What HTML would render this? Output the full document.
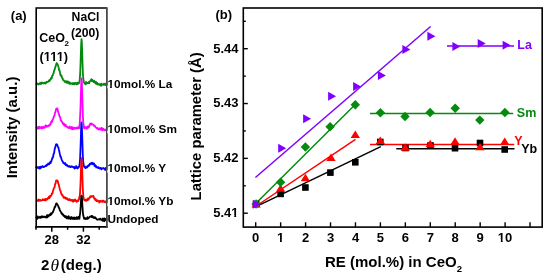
<!DOCTYPE html>
<html><head><meta charset="utf-8"><style>
html,body{margin:0;padding:0;width:550px;height:278px;overflow:hidden;background:#fff;font-family:"Liberation Sans",sans-serif;}
</style></head><body>
<svg width="550" height="278" viewBox="0 0 550 278" style="position:absolute;left:0;top:0;will-change:transform">
<rect width="550" height="278" fill="#fff"/>
<path d="M36.00 83.84 L36.35 84.24 L36.70 83.82 L37.05 83.75 L37.40 83.38 L37.75 83.75 L38.10 84.46 L38.45 84.05 L38.80 84.36 L39.15 83.90 L39.50 83.94 L39.85 83.79 L40.20 82.74 L40.55 84.09 L40.90 83.85 L41.25 83.81 L41.60 82.56 L41.95 82.48 L42.30 82.89 L42.65 83.07 L43.00 83.43 L43.35 83.17 L43.70 83.42 L44.05 82.70 L44.40 83.14 L44.75 83.10 L45.10 82.43 L45.45 83.63 L45.80 82.88 L46.15 83.11 L46.50 81.98 L46.85 81.77 L47.20 81.83 L47.55 81.79 L47.90 82.01 L48.25 81.59 L48.60 80.98 L48.95 80.44 L49.30 80.40 L49.65 81.05 L50.00 79.58 L50.35 79.77 L50.70 79.44 L51.05 77.90 L51.40 78.20 L51.75 78.28 L52.10 75.77 L52.45 75.93 L52.80 75.19 L53.15 73.85 L53.50 73.52 L53.85 72.06 L54.20 70.06 L54.55 70.03 L54.90 68.62 L55.25 67.49 L55.60 66.58 L55.95 65.00 L56.30 64.16 L56.65 63.02 L57.00 64.10 L57.35 63.84 L57.70 64.68 L58.05 65.25 L58.40 66.62 L58.75 68.15 L59.10 70.47 L59.45 69.93 L59.80 71.46 L60.15 73.53 L60.50 75.23 L60.85 75.69 L61.20 75.17 L61.55 75.59 L61.90 77.84 L62.25 77.84 L62.60 78.17 L62.95 79.80 L63.30 80.29 L63.65 80.15 L64.00 80.54 L64.35 80.96 L64.70 81.87 L65.05 81.58 L65.40 81.75 L65.75 81.97 L66.10 80.99 L66.45 82.73 L66.80 82.70 L67.15 82.61 L67.50 81.36 L67.85 82.22 L68.20 83.13 L68.55 81.77 L68.90 82.76 L69.25 83.50 L69.60 82.30 L69.95 83.98 L70.30 83.46 L70.65 83.13 L71.00 83.45 L71.35 83.68 L71.70 83.43 L72.05 84.04 L72.40 83.08 L72.75 83.25 L73.10 84.08 L73.45 83.55 L73.80 83.07 L74.15 84.10 L74.50 84.40 L74.85 83.36 L75.20 82.85 L75.55 83.53 L75.90 83.52 L76.25 83.42 L76.60 84.33 L76.95 82.96 L77.30 84.17 L77.65 82.71 L78.00 82.88 L78.35 83.52 L78.70 83.56 L79.05 82.95 L79.40 81.63 L79.75 79.16 L80.10 74.41 L80.45 66.62 L80.80 55.35 L81.15 44.72 L81.50 39.12 L81.85 42.15 L82.20 52.59 L82.55 63.75 L82.90 73.52 L83.25 78.24 L83.60 80.75 L83.95 82.10 L84.30 82.86 L84.65 83.64 L85.00 83.09 L85.35 83.56 L85.70 84.39 L86.05 81.97 L86.40 82.72 L86.75 83.40 L87.10 83.38 L87.45 83.15 L87.80 82.61 L88.15 83.00 L88.50 82.56 L88.85 81.87 L89.20 83.22 L89.55 81.81 L89.90 81.04 L90.25 81.04 L90.60 80.74 L90.95 80.65 L91.30 79.05 L91.65 80.22 L92.00 81.04 L92.35 79.90 L92.70 80.63 L93.05 81.38 L93.40 81.55 L93.75 82.17 L94.10 80.70 L94.45 81.74 L94.80 82.05 L95.15 82.87 L95.50 83.40 L95.85 81.57 L96.20 83.87 L96.55 82.67 L96.90 84.01 L97.25 82.96 L97.60 84.00 L97.95 84.66 L98.30 84.00 L98.65 84.25 L99.00 84.64 L99.35 84.32 L99.70 84.23 L100.05 85.15 L100.40 84.91 L100.75 84.19 L101.10 85.88 L101.45 83.75 L101.80 84.90 L102.15 84.26 L102.50 84.49 L102.85 84.82 L103.20 84.56 L103.55 84.80 L103.90 83.62 L104.25 83.63 L104.60 84.81 L104.95 83.95 L105.30 83.92 L105.65 83.68 L106.00 85.19 L106.35 84.91 L106.70 85.32" fill="none" stroke="#058a10" stroke-width="1.8" stroke-linejoin="round"/>
<path d="M36.00 127.29 L36.35 127.80 L36.70 127.16 L37.05 128.19 L37.40 128.63 L37.75 127.25 L38.10 128.58 L38.45 128.24 L38.80 127.58 L39.15 126.57 L39.50 128.40 L39.85 127.55 L40.20 127.24 L40.55 127.76 L40.90 127.74 L41.25 128.30 L41.60 126.88 L41.95 128.02 L42.30 128.17 L42.65 128.10 L43.00 127.15 L43.35 126.79 L43.70 127.70 L44.05 127.13 L44.40 127.07 L44.75 127.71 L45.10 126.69 L45.45 125.48 L45.80 126.43 L46.15 125.52 L46.50 126.87 L46.85 126.46 L47.20 125.81 L47.55 125.98 L47.90 126.27 L48.25 125.66 L48.60 126.14 L48.95 125.14 L49.30 125.48 L49.65 125.44 L50.00 125.18 L50.35 123.56 L50.70 124.01 L51.05 122.03 L51.40 121.96 L51.75 120.90 L52.10 121.92 L52.45 119.93 L52.80 119.79 L53.15 118.79 L53.50 117.88 L53.85 116.49 L54.20 115.78 L54.55 115.41 L54.90 113.20 L55.25 112.25 L55.60 111.39 L55.95 109.80 L56.30 108.55 L56.65 108.60 L57.00 109.53 L57.35 108.43 L57.70 109.73 L58.05 111.59 L58.40 112.62 L58.75 113.42 L59.10 115.12 L59.45 116.00 L59.80 116.43 L60.15 117.30 L60.50 118.80 L60.85 120.56 L61.20 120.55 L61.55 121.09 L61.90 121.81 L62.25 121.97 L62.60 123.27 L62.95 123.14 L63.30 124.40 L63.65 123.27 L64.00 125.08 L64.35 124.85 L64.70 124.40 L65.05 126.11 L65.40 125.78 L65.75 124.91 L66.10 125.84 L66.45 126.64 L66.80 126.38 L67.15 127.20 L67.50 127.31 L67.85 127.39 L68.20 127.31 L68.55 127.96 L68.90 127.68 L69.25 127.65 L69.60 126.34 L69.95 128.05 L70.30 128.34 L70.65 127.52 L71.00 127.48 L71.35 128.86 L71.70 126.87 L72.05 128.14 L72.40 129.26 L72.75 127.45 L73.10 128.38 L73.45 129.06 L73.80 127.98 L74.15 128.38 L74.50 128.58 L74.85 127.60 L75.20 128.06 L75.55 128.27 L75.90 128.56 L76.25 128.07 L76.60 127.95 L76.95 127.47 L77.30 127.77 L77.65 128.39 L78.00 127.85 L78.35 127.17 L78.70 126.92 L79.05 128.34 L79.40 126.34 L79.75 123.43 L80.10 116.35 L80.45 109.15 L80.80 96.96 L81.15 85.48 L81.50 78.35 L81.85 81.82 L82.20 93.33 L82.55 104.56 L82.90 116.22 L83.25 122.13 L83.60 124.84 L83.95 127.43 L84.30 128.33 L84.65 126.85 L85.00 127.41 L85.35 128.01 L85.70 127.97 L86.05 127.63 L86.40 127.25 L86.75 128.84 L87.10 128.10 L87.45 126.67 L87.80 126.35 L88.15 127.75 L88.50 127.04 L88.85 127.16 L89.20 126.24 L89.55 124.94 L89.90 125.20 L90.25 123.52 L90.60 124.00 L90.95 124.13 L91.30 124.27 L91.65 123.50 L92.00 123.83 L92.35 124.23 L92.70 124.36 L93.05 124.76 L93.40 124.84 L93.75 124.91 L94.10 125.92 L94.45 125.92 L94.80 125.85 L95.15 126.36 L95.50 127.08 L95.85 127.36 L96.20 127.82 L96.55 128.00 L96.90 128.34 L97.25 128.37 L97.60 127.92 L97.95 128.98 L98.30 129.44 L98.65 129.19 L99.00 128.93 L99.35 129.34 L99.70 128.62 L100.05 128.15 L100.40 129.26 L100.75 128.75 L101.10 129.70 L101.45 128.72 L101.80 127.89 L102.15 128.79 L102.50 130.25 L102.85 129.19 L103.20 128.66 L103.55 129.02 L103.90 129.74 L104.25 129.74 L104.60 129.58 L104.95 130.31 L105.30 129.90 L105.65 129.51 L106.00 129.87 L106.35 130.46 L106.70 130.10" fill="none" stroke="#ff00ff" stroke-width="1.8" stroke-linejoin="round"/>
<path d="M36.00 167.94 L36.35 166.77 L36.70 167.26 L37.05 167.72 L37.40 167.13 L37.75 167.86 L38.10 167.57 L38.45 167.71 L38.80 167.07 L39.15 168.55 L39.50 167.80 L39.85 166.96 L40.20 167.09 L40.55 168.43 L40.90 166.77 L41.25 167.39 L41.60 167.40 L41.95 166.81 L42.30 166.10 L42.65 166.78 L43.00 166.81 L43.35 167.16 L43.70 166.89 L44.05 166.39 L44.40 166.76 L44.75 166.49 L45.10 166.20 L45.45 166.00 L45.80 165.71 L46.15 166.08 L46.50 164.97 L46.85 165.04 L47.20 165.21 L47.55 164.21 L47.90 164.56 L48.25 163.45 L48.60 163.92 L48.95 164.31 L49.30 163.99 L49.65 163.29 L50.00 162.79 L50.35 161.69 L50.70 162.97 L51.05 161.69 L51.40 161.37 L51.75 159.58 L52.10 159.17 L52.45 157.38 L52.80 157.82 L53.15 156.80 L53.50 154.02 L53.85 153.70 L54.20 152.65 L54.55 149.83 L54.90 148.27 L55.25 147.20 L55.60 146.07 L55.95 144.50 L56.30 144.47 L56.65 144.18 L57.00 144.42 L57.35 144.94 L57.70 146.26 L58.05 147.26 L58.40 147.30 L58.75 149.25 L59.10 150.48 L59.45 151.97 L59.80 153.94 L60.15 155.31 L60.50 156.78 L60.85 156.73 L61.20 157.91 L61.55 159.46 L61.90 160.15 L62.25 160.79 L62.60 161.55 L62.95 161.73 L63.30 163.03 L63.65 163.29 L64.00 163.45 L64.35 163.48 L64.70 164.08 L65.05 162.98 L65.40 164.20 L65.75 165.00 L66.10 164.37 L66.45 165.51 L66.80 165.66 L67.15 164.99 L67.50 165.76 L67.85 165.86 L68.20 166.42 L68.55 166.62 L68.90 166.37 L69.25 166.02 L69.60 166.51 L69.95 166.63 L70.30 167.15 L70.65 166.98 L71.00 166.49 L71.35 166.21 L71.70 166.80 L72.05 166.66 L72.40 166.50 L72.75 167.09 L73.10 166.92 L73.45 167.29 L73.80 167.55 L74.15 167.06 L74.50 168.59 L74.85 167.15 L75.20 167.95 L75.55 167.41 L75.90 167.96 L76.25 166.03 L76.60 166.91 L76.95 167.43 L77.30 167.58 L77.65 168.47 L78.00 167.27 L78.35 167.66 L78.70 167.14 L79.05 166.79 L79.40 165.50 L79.75 162.77 L80.10 158.35 L80.45 149.40 L80.80 139.73 L81.15 127.57 L81.50 122.46 L81.85 126.86 L82.20 135.66 L82.55 147.14 L82.90 156.80 L83.25 161.85 L83.60 164.34 L83.95 166.25 L84.30 166.99 L84.65 167.32 L85.00 166.63 L85.35 168.08 L85.70 168.04 L86.05 167.10 L86.40 167.16 L86.75 166.65 L87.10 167.50 L87.45 166.13 L87.80 166.63 L88.15 165.70 L88.50 165.25 L88.85 165.67 L89.20 165.62 L89.55 164.49 L89.90 163.74 L90.25 164.20 L90.60 163.41 L90.95 163.35 L91.30 163.83 L91.65 163.52 L92.00 162.60 L92.35 164.24 L92.70 163.16 L93.05 163.85 L93.40 163.39 L93.75 164.09 L94.10 163.56 L94.45 165.93 L94.80 166.12 L95.15 165.11 L95.50 165.34 L95.85 165.63 L96.20 167.48 L96.55 166.86 L96.90 167.32 L97.25 167.39 L97.60 167.67 L97.95 167.28 L98.30 168.01 L98.65 167.30 L99.00 168.12 L99.35 168.40 L99.70 168.53 L100.05 168.19 L100.40 167.86 L100.75 168.47 L101.10 168.15 L101.45 169.30 L101.80 168.88 L102.15 168.41 L102.50 168.24 L102.85 168.13 L103.20 168.01 L103.55 168.35 L103.90 168.72 L104.25 168.85 L104.60 168.90 L104.95 169.75 L105.30 168.22 L105.65 168.63 L106.00 170.17 L106.35 167.61 L106.70 168.36" fill="none" stroke="#0000ff" stroke-width="1.8" stroke-linejoin="round"/>
<path d="M36.00 200.77 L36.35 200.75 L36.70 200.87 L37.05 200.49 L37.40 200.80 L37.75 200.61 L38.10 200.98 L38.45 199.49 L38.80 200.01 L39.15 200.47 L39.50 199.87 L39.85 199.83 L40.20 200.72 L40.55 199.98 L40.90 200.65 L41.25 200.66 L41.60 200.38 L41.95 200.44 L42.30 200.05 L42.65 199.28 L43.00 199.98 L43.35 200.18 L43.70 199.57 L44.05 199.74 L44.40 200.12 L44.75 199.14 L45.10 199.88 L45.45 200.45 L45.80 199.01 L46.15 199.28 L46.50 198.99 L46.85 199.77 L47.20 198.95 L47.55 199.09 L47.90 198.03 L48.25 198.20 L48.60 197.97 L48.95 196.74 L49.30 198.23 L49.65 197.62 L50.00 195.82 L50.35 196.80 L50.70 195.88 L51.05 195.72 L51.40 195.12 L51.75 193.49 L52.10 193.51 L52.45 193.68 L52.80 191.68 L53.15 190.48 L53.50 189.24 L53.85 188.16 L54.20 187.78 L54.55 187.23 L54.90 185.22 L55.25 183.83 L55.60 183.74 L55.95 181.23 L56.30 180.44 L56.65 180.74 L57.00 180.78 L57.35 180.34 L57.70 181.01 L58.05 182.84 L58.40 184.02 L58.75 184.47 L59.10 186.40 L59.45 187.51 L59.80 189.29 L60.15 190.11 L60.50 191.17 L60.85 191.97 L61.20 193.59 L61.55 194.54 L61.90 194.25 L62.25 195.52 L62.60 195.18 L62.95 196.12 L63.30 196.92 L63.65 197.73 L64.00 197.03 L64.35 197.51 L64.70 197.94 L65.05 197.26 L65.40 198.32 L65.75 198.15 L66.10 198.91 L66.45 198.26 L66.80 197.95 L67.15 199.20 L67.50 199.45 L67.85 199.12 L68.20 200.02 L68.55 199.49 L68.90 199.40 L69.25 200.08 L69.60 199.03 L69.95 199.59 L70.30 200.02 L70.65 200.56 L71.00 200.06 L71.35 200.37 L71.70 199.89 L72.05 200.46 L72.40 201.25 L72.75 199.99 L73.10 201.71 L73.45 200.08 L73.80 200.47 L74.15 200.58 L74.50 201.06 L74.85 199.83 L75.20 199.36 L75.55 200.85 L75.90 200.95 L76.25 200.85 L76.60 201.93 L76.95 200.57 L77.30 200.55 L77.65 200.86 L78.00 200.46 L78.35 201.04 L78.70 199.23 L79.05 199.27 L79.40 196.61 L79.75 196.74 L80.10 191.61 L80.45 184.78 L80.80 175.25 L81.15 163.83 L81.50 158.27 L81.85 161.28 L82.20 170.52 L82.55 181.23 L82.90 190.37 L83.25 195.34 L83.60 198.10 L83.95 199.20 L84.30 200.33 L84.65 200.33 L85.00 200.10 L85.35 200.60 L85.70 200.15 L86.05 199.57 L86.40 200.92 L86.75 200.26 L87.10 199.32 L87.45 200.24 L87.80 199.59 L88.15 198.26 L88.50 199.69 L88.85 198.65 L89.20 198.59 L89.55 197.84 L89.90 197.28 L90.25 196.17 L90.60 197.26 L90.95 196.49 L91.30 196.14 L91.65 196.40 L92.00 196.24 L92.35 196.65 L92.70 196.24 L93.05 196.67 L93.40 195.82 L93.75 197.11 L94.10 198.10 L94.45 198.86 L94.80 198.33 L95.15 198.85 L95.50 200.15 L95.85 199.43 L96.20 200.31 L96.55 201.09 L96.90 200.42 L97.25 201.26 L97.60 200.36 L97.95 201.00 L98.30 200.95 L98.65 201.14 L99.00 201.77 L99.35 202.52 L99.70 200.89 L100.05 200.98 L100.40 201.60 L100.75 200.77 L101.10 201.65 L101.45 201.71 L101.80 201.26 L102.15 201.73 L102.50 200.60 L102.85 201.88 L103.20 200.63 L103.55 201.11 L103.90 201.20 L104.25 201.29 L104.60 202.00 L104.95 201.58 L105.30 201.33 L105.65 201.85 L106.00 202.43 L106.35 201.58 L106.70 201.78" fill="none" stroke="#ff0000" stroke-width="1.8" stroke-linejoin="round"/>
<path d="M36.00 218.15 L36.35 217.61 L36.70 216.75 L37.05 218.82 L37.40 218.66 L37.75 216.35 L38.10 217.41 L38.45 217.65 L38.80 217.94 L39.15 217.77 L39.50 217.24 L39.85 216.79 L40.20 217.41 L40.55 217.91 L40.90 216.72 L41.25 216.74 L41.60 217.26 L41.95 216.19 L42.30 217.08 L42.65 216.96 L43.00 217.41 L43.35 216.74 L43.70 216.60 L44.05 216.83 L44.40 216.97 L44.75 216.58 L45.10 216.90 L45.45 217.24 L45.80 217.41 L46.15 217.62 L46.50 216.17 L46.85 216.28 L47.20 215.04 L47.55 217.34 L47.90 215.77 L48.25 216.02 L48.60 216.17 L48.95 214.97 L49.30 215.78 L49.65 215.30 L50.00 214.07 L50.35 214.97 L50.70 215.17 L51.05 213.15 L51.40 214.25 L51.75 213.50 L52.10 213.17 L52.45 212.62 L52.80 212.49 L53.15 210.99 L53.50 210.86 L53.85 209.35 L54.20 209.12 L54.55 207.36 L54.90 206.83 L55.25 206.94 L55.60 205.41 L55.95 204.39 L56.30 203.35 L56.65 203.31 L57.00 203.88 L57.35 204.59 L57.70 204.85 L58.05 205.64 L58.40 206.18 L58.75 207.88 L59.10 207.86 L59.45 208.70 L59.80 210.36 L60.15 210.72 L60.50 211.28 L60.85 211.79 L61.20 212.57 L61.55 213.60 L61.90 213.94 L62.25 213.52 L62.60 214.80 L62.95 215.02 L63.30 214.68 L63.65 215.94 L64.00 215.61 L64.35 215.81 L64.70 216.64 L65.05 217.11 L65.40 216.18 L65.75 216.95 L66.10 216.37 L66.45 218.26 L66.80 216.83 L67.15 217.87 L67.50 216.96 L67.85 217.85 L68.20 218.72 L68.55 216.18 L68.90 217.41 L69.25 218.00 L69.60 217.74 L69.95 217.48 L70.30 219.09 L70.65 218.00 L71.00 217.10 L71.35 218.52 L71.70 217.15 L72.05 218.77 L72.40 217.86 L72.75 218.29 L73.10 218.94 L73.45 218.34 L73.80 217.54 L74.15 217.40 L74.50 219.01 L74.85 218.79 L75.20 217.95 L75.55 218.88 L75.90 218.70 L76.25 218.79 L76.60 217.19 L76.95 218.26 L77.30 218.91 L77.65 218.79 L78.00 218.84 L78.35 216.94 L78.70 218.28 L79.05 218.23 L79.40 218.82 L79.75 215.67 L80.10 213.52 L80.45 209.51 L80.80 204.27 L81.15 197.83 L81.50 195.68 L81.85 196.39 L82.20 202.25 L82.55 207.76 L82.90 212.87 L83.25 215.38 L83.60 216.43 L83.95 218.61 L84.30 218.49 L84.65 218.16 L85.00 218.65 L85.35 219.13 L85.70 218.06 L86.05 218.53 L86.40 218.86 L86.75 218.80 L87.10 218.25 L87.45 217.18 L87.80 218.90 L88.15 218.26 L88.50 217.92 L88.85 217.59 L89.20 217.70 L89.55 217.13 L89.90 216.62 L90.25 216.60 L90.60 216.53 L90.95 216.40 L91.30 216.01 L91.65 216.96 L92.00 215.90 L92.35 217.03 L92.70 216.21 L93.05 217.11 L93.40 217.84 L93.75 217.40 L94.10 217.10 L94.45 217.75 L94.80 218.03 L95.15 217.22 L95.50 218.04 L95.85 218.65 L96.20 218.48 L96.55 218.93 L96.90 219.42 L97.25 219.55 L97.60 219.73 L97.95 219.63 L98.30 219.22 L98.65 219.42 L99.00 219.33 L99.35 219.35 L99.70 219.46 L100.05 218.64 L100.40 219.43 L100.75 219.63 L101.10 219.13 L101.45 219.67 L101.80 219.99 L102.15 219.63 L102.50 220.88 L102.85 218.33 L103.20 219.66 L103.55 218.79 L103.90 220.35 L104.25 221.28 L104.60 218.46 L104.95 219.93 L105.30 220.16 L105.65 219.72 L106.00 220.20 L106.35 218.68 L106.70 220.40" fill="none" stroke="#000000" stroke-width="1.8" stroke-linejoin="round"/>
<path d="M106.80 8.00 L36.20 8.00 L36.20 227.70" fill="none" stroke="#000" stroke-width="1.6"/>
<line x1="35.40" y1="226.90" x2="107.70" y2="226.90" stroke="#000" stroke-width="1.6"/>
<line x1="106.90" y1="7.20" x2="106.90" y2="227.70" stroke="#4a4a4a" stroke-width="1.8"/>
<line x1="36.00" y1="226.9" x2="36.00" y2="229.8" stroke="#000" stroke-width="1.5"/>
<line x1="51.80" y1="226.9" x2="51.80" y2="231.7" stroke="#000" stroke-width="1.5"/>
<line x1="67.60" y1="226.9" x2="67.60" y2="229.8" stroke="#000" stroke-width="1.5"/>
<line x1="83.40" y1="226.9" x2="83.40" y2="231.7" stroke="#000" stroke-width="1.5"/>
<line x1="99.20" y1="226.9" x2="99.20" y2="229.8" stroke="#000" stroke-width="1.5"/>
<g font-family="'Liberation Sans', sans-serif" font-weight="bold" font-size="13" fill="#000" text-anchor="middle">
<text x="51.8" y="244">28</text>
<text x="83.4" y="244">32</text>
</g>
<g font-family="'Liberation Sans', sans-serif" font-weight="bold" font-size="12.5" fill="#000">
<text x="71.6" y="21.2" font-size="12.2">NaCl</text>
<text x="70.9" y="37.2" font-size="12.2">(200)</text>
<text x="39.2" y="41.7">CeO<tspan font-size="8" dx="-0.4" dy="4.3">2</tspan></text>
<text x="39.6" y="60.8" font-size="12.8">(111)</text>
</g>
<g font-family="'Liberation Sans', sans-serif" font-weight="bold" font-size="11.8" fill="#000">
<text x="107.4" y="87.5">10mol.% La</text>
<text x="107.4" y="132.5">10mol.% Sm</text>
<text x="107.4" y="171.8">10mol.% Y</text>
<text x="107.4" y="205">10mol.% Yb</text>
<text x="107.4" y="222.7">Undoped</text>
</g>
<text x="10.8" y="19.5" font-family="'Liberation Sans', sans-serif" font-weight="bold" font-size="13" fill="#000">(a)</text>
<text x="215.5" y="19.3" font-family="'Liberation Sans', sans-serif" font-weight="bold" font-size="13" fill="#000">(b)</text>
<text transform="translate(17.3,178.3) rotate(-90)" font-family="'Liberation Sans', sans-serif" font-weight="bold" font-size="15" fill="#000">Intensity (a.u.)</text>
<text x="41" y="270.2" font-family="'Liberation Sans', sans-serif" font-weight="bold" font-size="15" fill="#000">2<tspan font-family="Liberation Serif" font-style="italic" font-weight="normal" font-size="17.5" dx="1.2" dy="0.8">&#952;</tspan><tspan dx="1.7" dy="-0.8">(deg.)</tspan></text>
<g font-family="'Liberation Sans', sans-serif" font-weight="bold" font-size="15" fill="#000">
<text transform="translate(201.3,200.4) rotate(-90)" font-size="14.8">Lattice parameter (&#197;)</text>
<text x="325" y="266.5">RE (mol.%) in CeO<tspan font-size="9.5" dy="5">2</tspan></text>
</g>
<g stroke-width="1.5" fill="none">
<line x1="255.4" y1="177.5" x2="430.6" y2="26.5" stroke="#8000ff"/>
<line x1="447" y1="45.9" x2="514" y2="45.9" stroke="#8000ff"/>
<line x1="255.5" y1="203.8" x2="355.5" y2="104.3" stroke="#058a10"/>
<line x1="370" y1="113.4" x2="513.2" y2="113.4" stroke="#058a10"/>
<line x1="255.5" y1="206.5" x2="355.5" y2="139.3" stroke="#ff0000"/>
<line x1="370" y1="144.5" x2="514.2" y2="144.5" stroke="#ff0000"/>
<line x1="255.5" y1="206.9" x2="380.8" y2="146.6" stroke="#000"/>
<line x1="396.3" y1="148.7" x2="514.5" y2="148.7" stroke="#000"/>
</g>
<rect x="252.80" y="200.70" width="6.60" height="6.60" fill="#000"/>
<rect x="277.30" y="190.60" width="6.60" height="6.60" fill="#000"/>
<rect x="302.10" y="184.20" width="6.60" height="6.60" fill="#000"/>
<rect x="327.10" y="169.30" width="6.60" height="6.60" fill="#000"/>
<rect x="352.00" y="159.00" width="6.60" height="6.60" fill="#000"/>
<rect x="377.00" y="138.70" width="6.60" height="6.60" fill="#000"/>
<rect x="402.20" y="144.70" width="6.60" height="6.60" fill="#000"/>
<rect x="427.20" y="142.20" width="6.60" height="6.60" fill="#000"/>
<rect x="451.70" y="144.90" width="6.60" height="6.60" fill="#000"/>
<rect x="476.70" y="139.70" width="6.60" height="6.60" fill="#000"/>
<rect x="501.40" y="146.20" width="6.60" height="6.60" fill="#000"/>
<path d="M256.10 199.90 L260.75 207.40 L251.45 207.40 Z" fill="#ff0000"/>
<path d="M280.60 184.20 L285.25 191.70 L275.95 191.70 Z" fill="#ff0000"/>
<path d="M305.40 173.70 L310.05 181.20 L300.75 181.20 Z" fill="#ff0000"/>
<path d="M331.00 153.50 L335.65 161.00 L326.35 161.00 Z" fill="#ff0000"/>
<path d="M355.30 130.40 L359.95 137.90 L350.65 137.90 Z" fill="#ff0000"/>
<path d="M380.30 136.50 L384.95 144.00 L375.65 144.00 Z" fill="#ff0000"/>
<path d="M405.20 143.20 L409.85 150.70 L400.55 150.70 Z" fill="#ff0000"/>
<path d="M430.20 139.70 L434.85 147.20 L425.55 147.20 Z" fill="#ff0000"/>
<path d="M455.00 137.20 L459.65 144.70 L450.35 144.70 Z" fill="#ff0000"/>
<path d="M480.00 142.70 L484.65 150.20 L475.35 150.20 Z" fill="#ff0000"/>
<path d="M504.70 137.50 L509.35 145.00 L500.05 145.00 Z" fill="#ff0000"/>
<path d="M256.10 199.30 L260.80 204.00 L256.10 208.70 L251.40 204.00 Z" fill="#058a10"/>
<path d="M280.60 177.50 L285.30 182.20 L280.60 186.90 L275.90 182.20 Z" fill="#058a10"/>
<path d="M305.40 142.30 L310.10 147.00 L305.40 151.70 L300.70 147.00 Z" fill="#058a10"/>
<path d="M330.10 122.10 L334.80 126.80 L330.10 131.50 L325.40 126.80 Z" fill="#058a10"/>
<path d="M355.30 100.10 L360.00 104.80 L355.30 109.50 L350.60 104.80 Z" fill="#058a10"/>
<path d="M380.40 108.10 L385.10 112.80 L380.40 117.50 L375.70 112.80 Z" fill="#058a10"/>
<path d="M405.00 111.80 L409.70 116.50 L405.00 121.20 L400.30 116.50 Z" fill="#058a10"/>
<path d="M430.10 107.80 L434.80 112.50 L430.10 117.20 L425.40 112.50 Z" fill="#058a10"/>
<path d="M455.20 103.60 L459.90 108.30 L455.20 113.00 L450.50 108.30 Z" fill="#058a10"/>
<path d="M479.80 115.40 L484.50 120.10 L479.80 124.80 L475.10 120.10 Z" fill="#058a10"/>
<path d="M504.90 107.80 L509.60 112.50 L504.90 117.20 L500.20 112.50 Z" fill="#058a10"/>
<path d="M252.80 199.80 L260.80 204.30 L252.80 208.80 Z" fill="#8000ff"/>
<path d="M278.20 143.70 L286.20 148.20 L278.20 152.70 Z" fill="#8000ff"/>
<path d="M303.10 114.20 L311.10 118.70 L303.10 123.20 Z" fill="#8000ff"/>
<path d="M328.10 91.70 L336.10 96.20 L328.10 100.70 Z" fill="#8000ff"/>
<path d="M353.10 82.10 L361.10 86.60 L353.10 91.10 Z" fill="#8000ff"/>
<path d="M377.90 71.00 L385.90 75.50 L377.90 80.00 Z" fill="#8000ff"/>
<path d="M402.40 45.00 L410.40 49.50 L402.40 54.00 Z" fill="#8000ff"/>
<path d="M427.40 31.80 L435.40 36.30 L427.40 40.80 Z" fill="#8000ff"/>
<path d="M452.40 42.10 L460.40 46.60 L452.40 51.10 Z" fill="#8000ff"/>
<path d="M477.70 38.90 L485.70 43.40 L477.70 47.90 Z" fill="#8000ff"/>
<path d="M502.60 40.70 L510.60 45.20 L502.60 49.70 Z" fill="#8000ff"/>
<rect x="243.3" y="8.0" width="298.9" height="219.1" fill="none" stroke="#000" stroke-width="1.6"/>
<line x1="255.70" y1="227.1" x2="255.70" y2="222.3" stroke="#000" stroke-width="1.4"/>
<line x1="280.64" y1="227.1" x2="280.64" y2="222.3" stroke="#000" stroke-width="1.4"/>
<line x1="305.58" y1="227.1" x2="305.58" y2="222.3" stroke="#000" stroke-width="1.4"/>
<line x1="330.52" y1="227.1" x2="330.52" y2="222.3" stroke="#000" stroke-width="1.4"/>
<line x1="355.46" y1="227.1" x2="355.46" y2="222.3" stroke="#000" stroke-width="1.4"/>
<line x1="380.40" y1="227.1" x2="380.40" y2="222.3" stroke="#000" stroke-width="1.4"/>
<line x1="405.34" y1="227.1" x2="405.34" y2="222.3" stroke="#000" stroke-width="1.4"/>
<line x1="430.28" y1="227.1" x2="430.28" y2="222.3" stroke="#000" stroke-width="1.4"/>
<line x1="455.22" y1="227.1" x2="455.22" y2="222.3" stroke="#000" stroke-width="1.4"/>
<line x1="480.16" y1="227.1" x2="480.16" y2="222.3" stroke="#000" stroke-width="1.4"/>
<line x1="505.10" y1="227.1" x2="505.10" y2="222.3" stroke="#000" stroke-width="1.4"/>
<line x1="530.04" y1="227.1" x2="530.04" y2="222.3" stroke="#000" stroke-width="1.4"/>
<line x1="243.3" y1="213.20" x2="247.8" y2="213.20" stroke="#000" stroke-width="1.4"/>
<line x1="243.3" y1="158.37" x2="247.8" y2="158.37" stroke="#000" stroke-width="1.4"/>
<line x1="243.3" y1="103.54" x2="247.8" y2="103.54" stroke="#000" stroke-width="1.4"/>
<line x1="243.3" y1="48.71" x2="247.8" y2="48.71" stroke="#000" stroke-width="1.4"/>
<line x1="243.3" y1="185.79" x2="245.8" y2="185.79" stroke="#000" stroke-width="1.4"/>
<line x1="243.3" y1="130.96" x2="245.8" y2="130.96" stroke="#000" stroke-width="1.4"/>
<line x1="243.3" y1="76.13" x2="245.8" y2="76.13" stroke="#000" stroke-width="1.4"/>
<line x1="243.3" y1="21.29" x2="245.8" y2="21.29" stroke="#000" stroke-width="1.4"/>
<g font-family="'Liberation Sans', sans-serif" font-weight="bold" font-size="13" fill="#000">
<text x="238.5" y="217.1" text-anchor="end">5.41</text>
<text x="238.5" y="162.3" text-anchor="end">5.42</text>
<text x="238.5" y="107.4" text-anchor="end">5.43</text>
<text x="238.5" y="52.6" text-anchor="end">5.44</text>
<text x="255.7" y="241.5" text-anchor="middle">0</text>
<text x="280.6" y="241.5" text-anchor="middle">1</text>
<text x="305.6" y="241.5" text-anchor="middle">2</text>
<text x="330.5" y="241.5" text-anchor="middle">3</text>
<text x="355.5" y="241.5" text-anchor="middle">4</text>
<text x="380.4" y="241.5" text-anchor="middle">5</text>
<text x="405.3" y="241.5" text-anchor="middle">6</text>
<text x="430.3" y="241.5" text-anchor="middle">7</text>
<text x="455.2" y="241.5" text-anchor="middle">8</text>
<text x="480.2" y="241.5" text-anchor="middle">9</text>
<text x="505.1" y="241.5" text-anchor="middle">10</text>
</g>
<g font-family="'Liberation Sans', sans-serif" font-weight="bold" font-size="12.5">
<text x="517.3" y="49" fill="#8000ff">La</text>
<text x="516.8" y="116.5" fill="#058a10">Sm</text>
<text x="514.3" y="145" fill="#ff0000">Y</text>
<text x="521.2" y="153" fill="#000">Yb</text>
</g>
<g id="onefix"><rect x="43.86" y="58.74" width="2.93" height="3.06" fill="#fff"/><rect x="48.64" y="58.74" width="4.57" height="3.06" fill="#fff"/><rect x="55.07" y="58.74" width="4.55" height="3.06" fill="#fff"/><rect x="61.47" y="58.74" width="2.47" height="3.06" fill="#fff"/><rect x="107.34" y="85.55" width="2.76" height="2.95" fill="#fff"/><rect x="111.82" y="85.55" width="2.31" height="2.95" fill="#fff"/><rect x="107.34" y="130.55" width="2.76" height="2.95" fill="#fff"/><rect x="111.82" y="130.55" width="2.31" height="2.95" fill="#fff"/><rect x="107.34" y="169.85" width="2.76" height="2.95" fill="#fff"/><rect x="111.82" y="169.85" width="2.31" height="2.95" fill="#fff"/><rect x="107.34" y="203.05" width="2.76" height="2.95" fill="#fff"/><rect x="111.82" y="203.05" width="2.31" height="2.95" fill="#fff"/><rect x="231.27" y="215.02" width="2.97" height="3.08" fill="#fff"/><rect x="236.12" y="215.02" width="2.50" height="3.08" fill="#fff"/><rect x="277.00" y="239.42" width="2.97" height="3.08" fill="#fff"/><rect x="281.85" y="239.42" width="2.50" height="3.08" fill="#fff"/><rect x="497.88" y="239.42" width="2.97" height="3.08" fill="#fff"/><rect x="502.73" y="239.42" width="2.50" height="3.08" fill="#fff"/></g>
</svg>
</body></html>
